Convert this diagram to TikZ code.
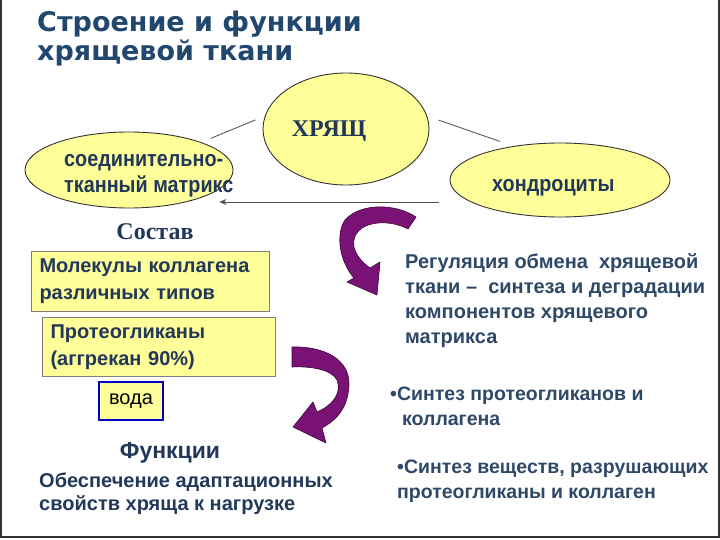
\documentclass[tikz,border=0pt]{standalone}
\usepackage{fontspec}
\setmainfont{Liberation Sans}
\newfontfamily\cartserif{Liberation Serif}
\newfontfamily\carttitlefont{DejaVu Sans}
\newfontfamily\cartnarrow{Liberation Sans}[FakeStretch=0.88]
\usepackage{tikz}
\usetikzlibrary{arrows.meta,shapes.geometric,positioning}
\definecolor{carttitle}{HTML}{21476F}
\definecolor{cartnavy}{HTML}{22385A}
\definecolor{cartsoft}{HTML}{2E4868}
\definecolor{cartyellow}{HTML}{FFFF99}
\definecolor{cartline}{HTML}{7F7F7F}
\definecolor{cartblue}{HTML}{0000C0}
\definecolor{cartpurple}{HTML}{7A1276}
\definecolor{cartpurpledark}{HTML}{3C063C}
\tikzset{%
  cartellipse/.style={%
    ellipse,
    draw=black!80,
    fill=cartyellow,
    line width=0.9pt,
    inner sep=0pt
  },
  cartlabel/.style={%
    align=left,
    inner sep=0pt,
    text=cartnavy,
    font=\cartnarrow\fontsize{22.5}{26}\selectfont\bfseries
  },
  cartbox/.style={%
    rectangle,
    draw=cartline,
    fill=cartyellow,
    line width=1pt,
    anchor=north west,
    align=left,
    inner xsep=8pt,
    inner ysep=0pt,
    text=cartnavy,
    font=\fontsize{20}{27}\selectfont\bfseries
  },
  carttext/.style={%
    align=left,
    inner sep=0pt,
    anchor=base west,
    text=cartsoft,
    font=\fontsize{19.5}{25}\selectfont\bfseries
  },
  carthead/.style={%
    inner sep=0pt,
    anchor=base,
    text=cartnavy
  },
  cartlink/.style={draw=black!65,line width=0.9pt},
  cartarrow/.style={-{Stealth[length=7pt,width=6pt]},draw=black!70,line width=0.9pt},
  cartcurl/.style={fill=cartpurple,draw=cartpurpledark,line width=0.6pt,line join=round}
}
\begin{document}
\begin{tikzpicture}[x=1pt,y=-1pt]
  \useasboundingbox (0,0) rectangle (720,540);
  \draw[black!80,line width=1.5pt] (1,0) -- (1,537) -- (719,537) -- (719,0);

  \node[anchor=base west,inner sep=0pt,align=left,text=carttitle,
    font=\carttitlefont\fontsize{27}{29}\selectfont\bfseries] (title) at (37,61)
    {Строение и функции\\хрящевой ткани};

  \node[cartellipse,minimum width=166pt,minimum height=112pt] (cartilage) at (346,129) {};
  \node[inner sep=0pt,text=cartnavy,font=\cartserif\fontsize{24}{26}\selectfont\bfseries] (cartilagetext) at (329,131) {ХРЯЩ};
  \node[cartellipse,minimum width=208pt,minimum height=76pt] (matrix) at (129,170) {};
  \node[cartlabel,anchor=base west] (matrixtext) at (64,193) {соединительно-\\тканный матрикс};
  \node[cartellipse,minimum width=220pt,minimum height=74pt] (chondro) at (560,180) {};
  \node[cartlabel,anchor=base west] (chondrotext) at (492,192) {хондроциты};

  \draw[cartlink,shorten <=10pt,shorten >=10pt] (matrix.21) -- (cartilage.171);
  \draw[cartlink,shorten <=12pt,shorten >=14pt] (cartilage.9) -- (chondro.144);
  \draw[cartarrow] ([xshift=-11pt,yshift=-22pt]chondro.west) -- ([xshift=-14pt,yshift=-32pt]matrix.east);

  \path[cartcurl] (416,217) .. controls (395,203) and (360,203) .. (345,220)
    .. controls (335,235) and (340,262) .. (354,278) -- (347,282) -- (377,295) -- (380,262) -- (370,268)
    .. controls (352,255) and (348,238) .. (362,228)
    .. controls (375,220) and (395,222) .. (408,229) -- cycle;
  \path[cartcurl] (292,347) .. controls (325,346) and (350,360) .. (349,385)
    .. controls (348,405) and (340,418) .. (322,428) -- (326,443) -- (293,427) -- (313,402) -- (317,412)
    .. controls (333,405) and (342,393) .. (337,380)
    .. controls (332,370) and (312,366) .. (292,367) -- cycle;

  \node[carthead,font=\cartserif\fontsize{24}{26}\selectfont\bfseries] (composition) at (155,240) {Состав};
  \node[cartbox,text width=222pt,minimum height=60pt] (collagen) at (31,251) {Молекулы коллагена\\различных типов};
  \node[cartbox,text width=217pt,minimum height=59pt] (proteo) at (42,317) {Протеогликаны\\(аггрекан 90\%)};
  \node[cartbox,draw=cartblue,line width=2pt,minimum width=64pt,minimum height=38pt,align=center,
    inner xsep=0pt,text=black,font=\fontsize{20}{24}\selectfont] (water) at (98,381) {вода};

  \node[carthead,font=\fontsize{23}{26}\selectfont\bfseries] (functions) at (170,458) {Функции};
  \node[carttext,text=cartnavy,font=\fontsize{20}{23}\selectfont\bfseries] (functext) at (39,510)
    {Обеспечение адаптационных\\свойств хряща к нагрузке};

  \node[carttext,font=\fontsize{20}{25}\selectfont\bfseries] (regulation) at (405,343)
    {Регуляция обмена\ \ хрящевой\\ткани –\ \ синтеза и деградации\\компонентов хрящевого\\матрикса};
  \node[carttext] (synthproteo) at (390,425)
    {•Синтез протеогликанов и\\\hspace*{12pt}коллагена};
  \node[carttext] (synthdegrade) at (397,498)
    {•Синтез веществ, разрушающих\\протеогликаны и коллаген};
\end{tikzpicture}
\end{document}
